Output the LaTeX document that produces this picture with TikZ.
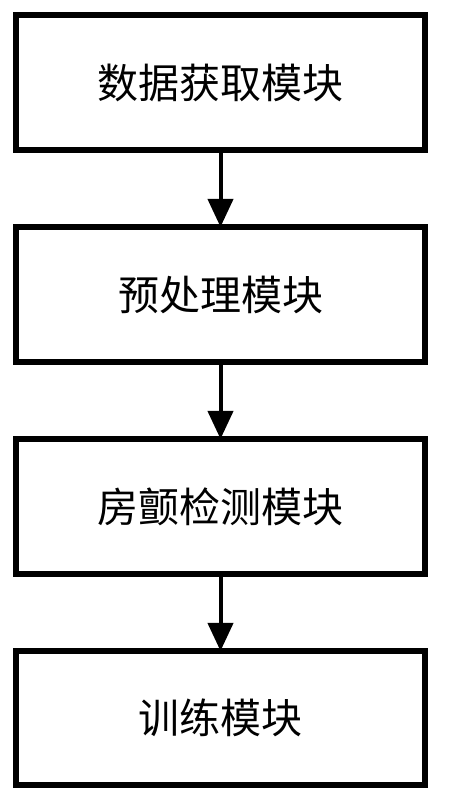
\documentclass[tikz,border=0pt]{standalone}
\usepackage{fontspec}
\newfontfamily\cjk{Noto Sans CJK SC}
\usetikzlibrary{arrows.meta}
\begin{document}
\begin{tikzpicture}[x=1pt,y=1pt,
  modbox/.style={draw=black, line width=6pt, minimum width=409pt, minimum height=135pt, inner sep=0pt, outer sep=0pt, font=\cjk\fontsize{41}{41}\selectfont},
  flow/.style={line width=4pt, -{Triangle[width=25pt,length=28pt]}}]
\useasboundingbox (0,0) rectangle (451,811);
\fill[white] (0,0) rectangle (451,811);
\node[modbox] (b1) at (220.5,728.5) {数据获取模块};
\node[modbox] (b2) at (220.5,516.5) {预处理模块};
\node[modbox] (b3) at (220.5,304.5) {房颤检测模块};
\node[modbox, minimum height=134pt] (b4) at (220.5,93) {训练模块};
\draw[flow] (b1.south) -- (b2.north);
\draw[flow] (b2.south) -- (b3.north);
\draw[flow] (b3.south) -- (b4.north);
\end{tikzpicture}
\end{document}
